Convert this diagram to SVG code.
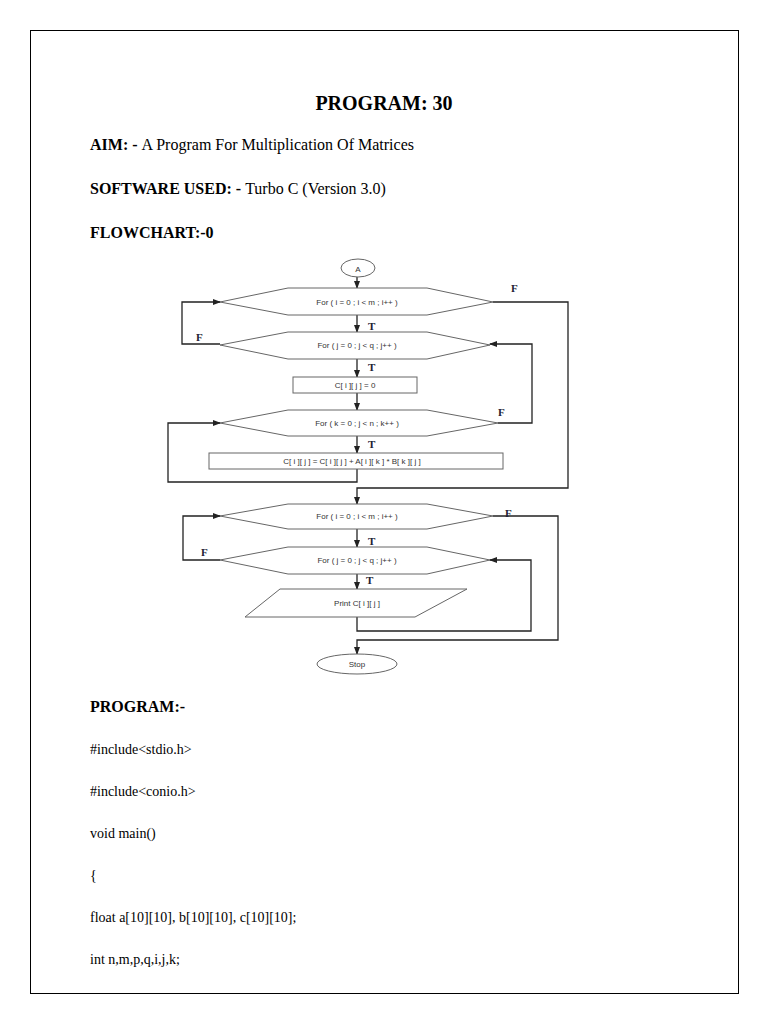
<svg xmlns="http://www.w3.org/2000/svg" width="768" height="1024" viewBox="0 0 768 1024">
<defs>
<marker id="ar" markerWidth="8" markerHeight="8" refX="7" refY="4" orient="auto" markerUnits="userSpaceOnUse"><path d="M0,1 L8,4 L0,7 Z" fill="#222"/></marker>
<style>
.t{font-family:"Liberation Serif",serif;fill:#000}
.h{font-size:20px;font-weight:bold}
.b{font-size:16px}
.c{font-size:14px}
.s{fill:#fff;stroke:#666;stroke-width:1}
.f{font-family:"Liberation Sans",sans-serif;font-size:8px;fill:#333;text-anchor:middle}
.l{font-family:"Liberation Serif",serif;font-size:11px;font-weight:bold;fill:#223}
.w{fill:none;stroke:#222;stroke-width:1.3}
</style>
</defs>
<rect width="768" height="1024" fill="#fff"/>
<rect x="30.5" y="30.5" width="708" height="963" fill="none" stroke="#000" stroke-width="1"/>
<text class="t h" x="384" y="110" text-anchor="middle">PROGRAM: 30</text>
<text class="t b" x="90" y="150"><tspan font-weight="bold">AIM: - </tspan>A Program For Multiplication Of Matrices</text>
<text class="t b" x="90" y="194"><tspan font-weight="bold">SOFTWARE USED: - </tspan>Turbo C (Version 3.0)</text>
<text class="t b" x="90" y="238" font-weight="bold">FLOWCHART:-0</text>
<g id="connectors">
<path class="w" d="M357,277 V288" marker-end="url(#ar)"/>
<path class="w" d="M357,314 V332" marker-end="url(#ar)"/>
<path class="w" d="M357,359 V377" marker-end="url(#ar)"/>
<path class="w" d="M357,393 V410" marker-end="url(#ar)"/>
<path class="w" d="M357,435 V453" marker-end="url(#ar)"/>
<path class="w" d="M357,469 V482 H168 V423 H220" marker-end="url(#ar)"/>
<path class="w" d="M220,344 H182 V302 H220" marker-end="url(#ar)"/>
<path class="w" d="M498,423 H532 V344 H490" marker-end="url(#ar)"/>
<path class="w" d="M493,302 H568 V488 H357 V504" marker-end="url(#ar)"/>
<path class="w" d="M357,529 V547" marker-end="url(#ar)"/>
<path class="w" d="M357,574 V589" marker-end="url(#ar)"/>
<path class="w" d="M220,560 H183 V516 H220" marker-end="url(#ar)"/>
<path class="w" d="M357,617 V631 H531 V560 H490" marker-end="url(#ar)"/>
<path class="w" d="M493,516 H558 V640 H357 V654" marker-end="url(#ar)"/>
</g>
<g id="labels">
<text class="l" x="511" y="292">F</text>
<text class="l" x="368" y="330">T</text>
<text class="l" x="196" y="341">F</text>
<text class="l" x="368" y="371">T</text>
<text class="l" x="498" y="416">F</text>
<text class="l" x="368" y="448">T</text>
<text class="l" x="505" y="517">F</text>
<text class="l" x="368" y="545">T</text>
<text class="l" x="201" y="556">F</text>
<text class="l" x="366" y="584">T</text>
</g>
<g id="nA"><ellipse class="s" cx="358" cy="268" rx="17" ry="9" stroke="#333"/><text class="f" x="358" y="272" font-size="10">A</text></g>
<g id="n1"><polygon class="s" points="220,302 288,288 427,288 493,302 427,315 288,315"/><text class="f" x="357" y="305">For ( i = 0 ; i &lt; m ; i++ )</text></g>
<g id="n2"><polygon class="s" points="220,345 288,332 427,332 490,345 427,359 288,359"/><text class="f" x="357" y="348">For ( j = 0 ; j &lt; q ; j++ )</text></g>
<g id="n3"><rect class="s" x="293" y="377" width="124" height="16"/><text class="f" x="355" y="388">C[ i ][ j ] = 0</text></g>
<g id="n4"><polygon class="s" points="220,423 288,410 427,410 498,423 427,436 288,436"/><text class="f" x="357" y="426">For ( k = 0 ; j &lt; n ; k++ )</text></g>
<g id="n5"><rect class="s" x="209" y="453" width="294" height="16"/><text class="f" x="352" y="464">C[ i ][ j ] = C[ i ][ j ] + A[ i ][ k ] * B[ k ][ j ]</text></g>
<g id="n6"><polygon class="s" points="220,516 288,504 427,504 493,516 427,529 288,529"/><text class="f" x="357" y="519">For ( i = 0 ; i &lt; m ; i++ )</text></g>
<g id="n7"><polygon class="s" points="220,560 288,547 427,547 490,560 427,574 288,574"/><text class="f" x="357" y="563">For ( j = 0 ; j &lt; q ; j++ )</text></g>
<g id="n8"><polygon class="s" points="280,589 467,589 415,617 245,617"/><text class="f" x="357" y="606">Print  C[ i ][ j ]</text></g>
<g id="n9"><ellipse class="s" cx="357" cy="664" rx="40" ry="10" stroke="#333"/><text class="f" x="357" y="667">Stop</text></g>
<text class="t b" x="90" y="712" font-weight="bold">PROGRAM:-</text>
<text class="t c" x="90" y="754">#include&lt;stdio.h&gt;</text>
<text class="t c" x="90" y="796">#include&lt;conio.h&gt;</text>
<text class="t c" x="90" y="838">void main()</text>
<text class="t c" x="90" y="880">{</text>
<text class="t c" x="90" y="922">float a[10][10], b[10][10], c[10][10];</text>
<text class="t c" x="90" y="964">int n,m,p,q,i,j,k;</text>
</svg>
